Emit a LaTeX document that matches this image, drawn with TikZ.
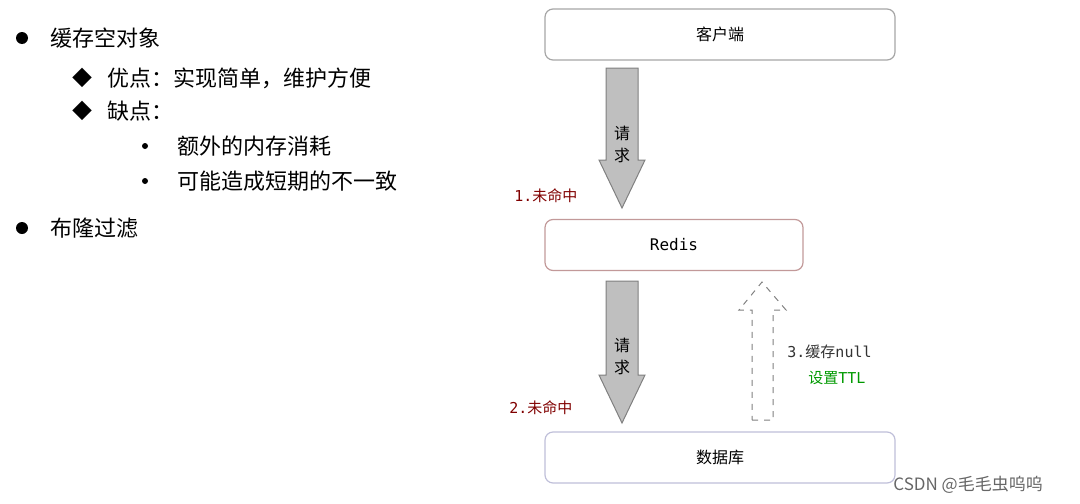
\documentclass[tikz,border=0pt]{standalone}
\usepackage{fontspec}
\setmainfont{Noto Sans CJK SC}
\newfontfamily\mymono{DejaVu Sans Mono}
\begin{document}
\begin{tikzpicture}[x=0.5pt,y=-0.5pt,
  box/.style={draw, rounded corners=4pt, line width=0.6pt, minimum width=#1*0.5pt, minimum height=25.5pt, inner sep=0pt, font=\fontsize{8}{9}\selectfont},
  item/.style={anchor=west, font=\fontsize{11}{13}\selectfont, inner sep=0pt},
  lab/.style={anchor=west, inner sep=0pt, font=\fontsize{7.5}{9}\selectfont}]
\useasboundingbox (0,0) rectangle (1080,503);
% left list
\fill (22,38) circle (6);
\node[item] (l1) at (50,38) {缓存空对象};
\node[item,font=\fontsize{10}{12}\selectfont] (d1) at (72,78) {◆};
\node[item] (l2) at (107,78) {优点：实现简单，维护方便};
\node[item,font=\fontsize{10}{12}\selectfont] (d2) at (72,111) {◆};
\node[item] (l3) at (107,111) {缺点：};
\fill (145,146) circle (3);
\node[item] (l4) at (177,146) {额外的内存消耗};
\fill (145,181) circle (3);
\node[item] (l5) at (177,181) {可能造成短期的不一致};
\fill (22,228) circle (6);
\node[item] (l6) at (50,228) {布隆过滤};
% boxes
\node[box=350, draw=black!35] (client) at (720,34.5) {客户端};
\node[box=258, draw=red!40!black!40, font=\fontsize{8}{9}\selectfont\mymono] (redis) at (674,245) {Redis};
\node[box=350, draw=blue!40!black!25] (db) at (720,457.5) {数据库};
% arrows
\filldraw[fill=black!25, draw=black!50, line width=0.5pt]
  (606,68) -- (638,68) -- (638,160) -- (645,160) -- (622,208) -- (599,160) -- (606,160) -- cycle;
\node[font=\fontsize{8}{9}\selectfont, align=center, inner sep=0pt] (q1) at (622,144) {请\\[2pt]求};
\filldraw[fill=black!25, draw=black!50, line width=0.5pt]
  (606,281) -- (638,281) -- (638,375) -- (645,375) -- (622,423) -- (599,375) -- (606,375) -- cycle;
\node[font=\fontsize{8}{9}\selectfont, align=center, inner sep=0pt] (q2) at (622,356) {请\\[2pt]求};
\draw[dashed, draw=black!50, line width=0.5pt]
  (752,420) -- (773,420) -- (773,310) -- (786,310) -- (762,282) -- (739,310) -- (752,310) -- cycle;
% labels
\node[lab, text=red!50!black] (m1) at (514,196) {{\mymono 1.}未命中};
\node[lab, text=red!50!black] (m2) at (509,408) {{\mymono 2.}未命中};
\node[lab, text=black!80] (n3) at (787,352) {{\mymono 3.}缓存{\mymono null}};
\node[lab, text=green!60!black] (ttl) at (808,378) {设置{\mymono TTL}};
\node[anchor=west, inner sep=0pt, text=black!60, font=\fontsize{8.5}{10}\selectfont] (w) at (893,485) {CSDN @毛毛虫呜呜};
\end{tikzpicture}
\end{document}
